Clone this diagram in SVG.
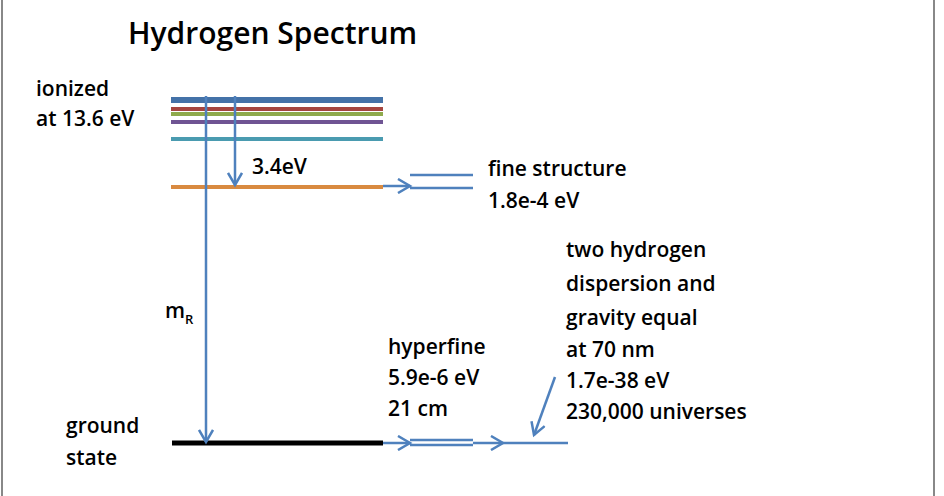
<svg xmlns="http://www.w3.org/2000/svg" width="944" height="496" viewBox="0 0 944 496">
<style>
text{font-family:"Open Sans","Noto Sans",sans-serif;font-size:21px;font-weight:600;fill:#000}
.c{stroke:#4f81bd;stroke-width:2.5;fill:none}
</style>
<defs>
<marker id="a" markerWidth="16" markerHeight="16" refX="13" refY="8" orient="auto" markerUnits="userSpaceOnUse">
<path d="M1,1 L13,8 L1,15" fill="none" stroke="#4f81bd" stroke-width="2.5"/>
</marker>
</defs>
<rect width="944" height="496" fill="#fff"/>
<line x1="2" y1="0" x2="2" y2="496" stroke="#888" stroke-width="2"/>
<line x1="934" y1="0" x2="934" y2="496" stroke="#888" stroke-width="2"/>
<text x="128" y="44" style="font-size:30px">Hydrogen Spectrum</text>
<g id="levels">
<line x1="171" y1="100" x2="383" y2="100" stroke="#4472a8" stroke-width="6"/>
<line x1="171" y1="109" x2="383" y2="109" stroke="#a5453f" stroke-width="4"/>
<line x1="171" y1="114" x2="383" y2="114" stroke="#8faa4c" stroke-width="4"/>
<line x1="171" y1="122" x2="383" y2="122" stroke="#6f5493" stroke-width="4"/>
<line x1="171" y1="139" x2="383" y2="139" stroke="#4a9bb0" stroke-width="4"/>
<line x1="171" y1="187" x2="383" y2="187" stroke="#d98a40" stroke-width="4"/>
<line x1="172" y1="443" x2="383" y2="443" stroke="#000" stroke-width="5"/>
<text x="36" y="96">ionized</text>
<text x="36" y="126">at 13.6 eV</text>
<text x="66" y="433">ground</text>
<text x="66" y="465">state</text>
</g>
<g id="fine">
<line x1="410" y1="175" x2="473" y2="175" class="c"/>
<line x1="410" y1="188" x2="473" y2="188" class="c"/>
<text x="488" y="176">fine structure</text>
<text x="488" y="208">1.8e-4 eV</text>
</g>
<g id="hyperfine">
<line x1="410" y1="440" x2="473" y2="440" class="c"/>
<line x1="410" y1="445" x2="473" y2="445" class="c"/>
<line x1="503" y1="443" x2="568" y2="443" class="c" stroke-width="3"/>
<text x="388" y="354">hyperfine</text>
<text x="388" y="385">5.9e-6 eV</text>
<text x="388" y="416">21 cm</text>
</g>
<g id="grav">
<text x="566" y="257">two hydrogen</text>
<text x="566" y="291">dispersion and</text>
<text x="566" y="325">gravity equal</text>
<text x="566" y="357">at 70 nm</text>
<text x="566" y="388">1.7e-38 eV</text>
<text x="566" y="419">230,000 universes</text>
</g>
<g id="connectors">
<line x1="206" y1="96" x2="206" y2="442" class="c" marker-end="url(#a)"/>
<line x1="235" y1="96" x2="235" y2="185" class="c" marker-end="url(#a)"/>
<line x1="383" y1="186" x2="410" y2="186" class="c" marker-end="url(#a)"/>
<line x1="383" y1="443" x2="410" y2="443" class="c" marker-end="url(#a)"/>
<line x1="473" y1="443" x2="503" y2="443" class="c" marker-end="url(#a)"/>
<line x1="555" y1="377" x2="534" y2="435" class="c" marker-end="url(#a)"/>
<text x="252" y="174">3.4eV</text>
<text x="165" y="318">m<tspan font-size="13" dy="6">R</tspan></text>
</g>
</svg>
